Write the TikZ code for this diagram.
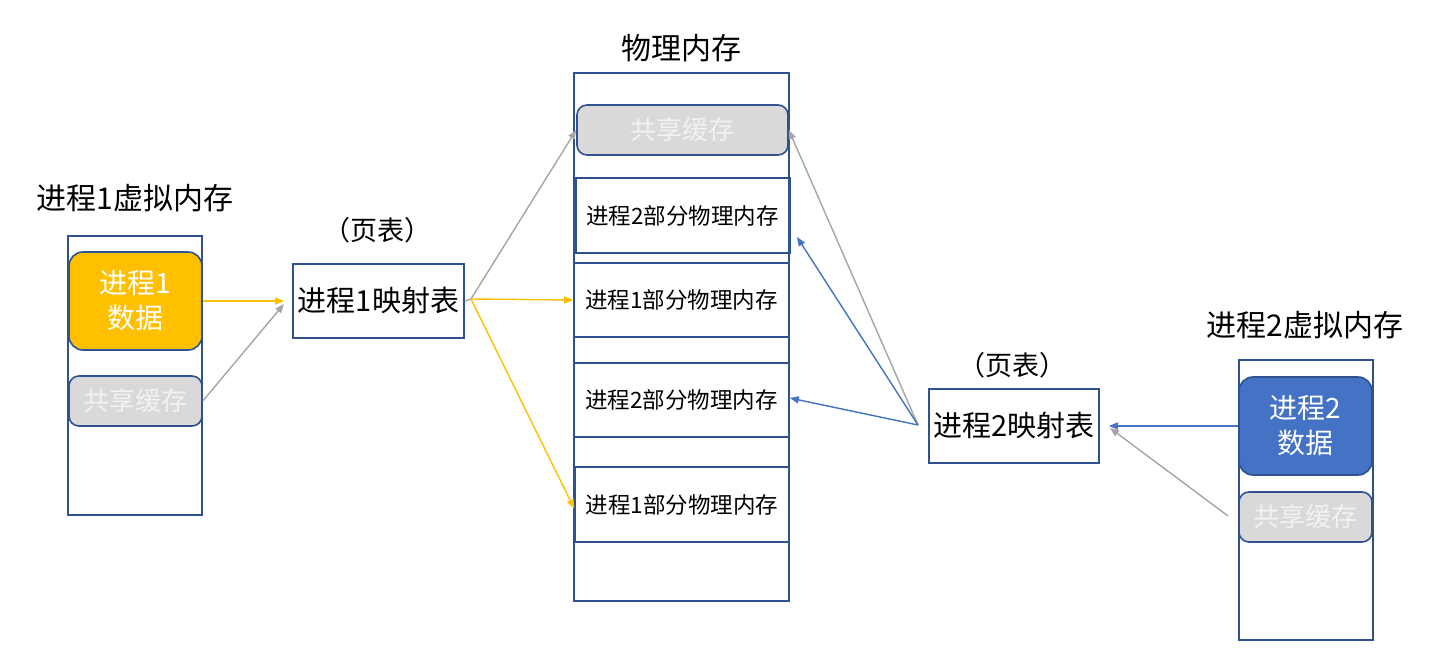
\documentclass[tikz,border=0pt]{standalone}
\usepackage{fontspec}
\setmainfont{Noto Sans CJK SC}
\usetikzlibrary{arrows.meta}
\definecolor{edge}{HTML}{2F528F}
\definecolor{yel}{HTML}{FFC000}
\definecolor{blu}{HTML}{4472C4}
\definecolor{gry}{HTML}{A5A5A5}
\definecolor{gfill}{HTML}{D9D9D9}
\definecolor{gtext}{HTML}{F2F2F2}
\newcommand{\fs}[1]{\fontsize{#1pt}{#1pt}\selectfont}
\tikzset{
  frame/.style={draw=edge, line width=1.6pt, inner sep=0pt},
  databox/.style={frame, rounded corners=14pt, text=white, align=center, font=\fontsize{28pt}{35pt}\selectfont},
  sharebox/.style={frame, rounded corners=10pt, fill=gfill, text=gtext, font=\fs{26}},
  rowbox/.style={frame, font=\fs{22.5}},
  title/.style={font=\fs{30}},
  ptlabel/.style={font=\fs{27}},
  conn/.style={line width=1.4pt, -{Triangle[length=9pt,width=7pt]}},
}
\begin{document}
\begin{tikzpicture}[x=1pt,y=-1pt]
\useasboundingbox[fill=white] (0,0) rectangle (1444,670);
% left virtual memory
\node[title] (t1) at (135,198) {进程1虚拟内存};
\node[frame, minimum width=134pt, minimum height=279pt] (v1) at (135,375.5) {};
\node[databox, fill=yel, minimum width=133pt, minimum height=98pt] (d1) at (135.5,301) {进程1\\数据};
\node[sharebox, minimum width=133pt, minimum height=50pt] (s1) at (135.5,401) {共享缓存};
% page table 1
\node[ptlabel] (l1) at (377,230) {（页表）};
\node[frame, minimum width=171pt, minimum height=74pt, font=\fs{29}] (pt1) at (378.5,301) {进程1映射表};
% physical memory
\node[title] (tp) at (681,48) {物理内存};
\node[frame, minimum width=215pt, minimum height=528pt] (pm) at (681.5,337) {};
\node[sharebox, minimum width=211pt, minimum height=50pt] (ps) at (682.5,130) {共享缓存};
\node[rowbox, line width=2.4pt, minimum width=214pt, minimum height=75pt] (p2a) at (682.5,215.5) {进程2部分物理内存};
\node[rowbox, minimum width=215pt, minimum height=74pt] (p1a) at (681.5,300) {进程1部分物理内存};
\node[rowbox, minimum width=215pt, minimum height=74pt] (p2b) at (681.5,400) {进程2部分物理内存};
\node[rowbox, minimum width=214pt, minimum height=75pt] (p1b) at (682,504.5) {进程1部分物理内存};
% page table 2
\node[ptlabel] (l2) at (1012,365) {（页表）};
\node[frame, minimum width=170pt, minimum height=74pt, font=\fs{29}] (pt2) at (1014,426) {进程2映射表};
% right virtual memory
\node[title] (t2) at (1305,325) {进程2虚拟内存};
\node[frame, minimum width=134pt, minimum height=280pt] (v2) at (1306,500) {};
\node[databox, fill=blu, minimum width=133pt, minimum height=98pt] (d2) at (1305.5,426) {进程2\\数据};
\node[sharebox, minimum width=133pt, minimum height=50pt] (s2) at (1305.5,517) {共享缓存};
% connector points
\coordinate (c1) at (284,304);
\coordinate (o1) at (471,299);
\coordinate (o2) at (918,425);
\coordinate (c2) at (797,237);
\coordinate (c3) at (1228,516);
\coordinate (c4) at (1110,428);
% connectors
\draw[conn, yel] (d1.east) -- ([xshift=-8pt]pt1.west);
\draw[conn, gry] (s1.east) -- (c1);
\draw[line width=1.4pt, gry] (pt1.east) -- (o1);
\draw[conn, gry] (o1) -- (ps.west);
\draw[conn, yel] (o1) -- (p1a.west);
\draw[conn, yel] (o1) -- ([yshift=-4pt]p1b.west);
\draw[conn, gry] (o2) -- (ps.east);
\draw[conn, blu] (o2) -- (c2);
\draw[conn, blu] (o2) -- ([yshift=2pt]p2b.east);
\draw[conn, blu] (d2.west) -- ([xshift=9pt]pt2.east);
\draw[conn, gry] (c3) -- (c4);
\end{tikzpicture}
\end{document}
